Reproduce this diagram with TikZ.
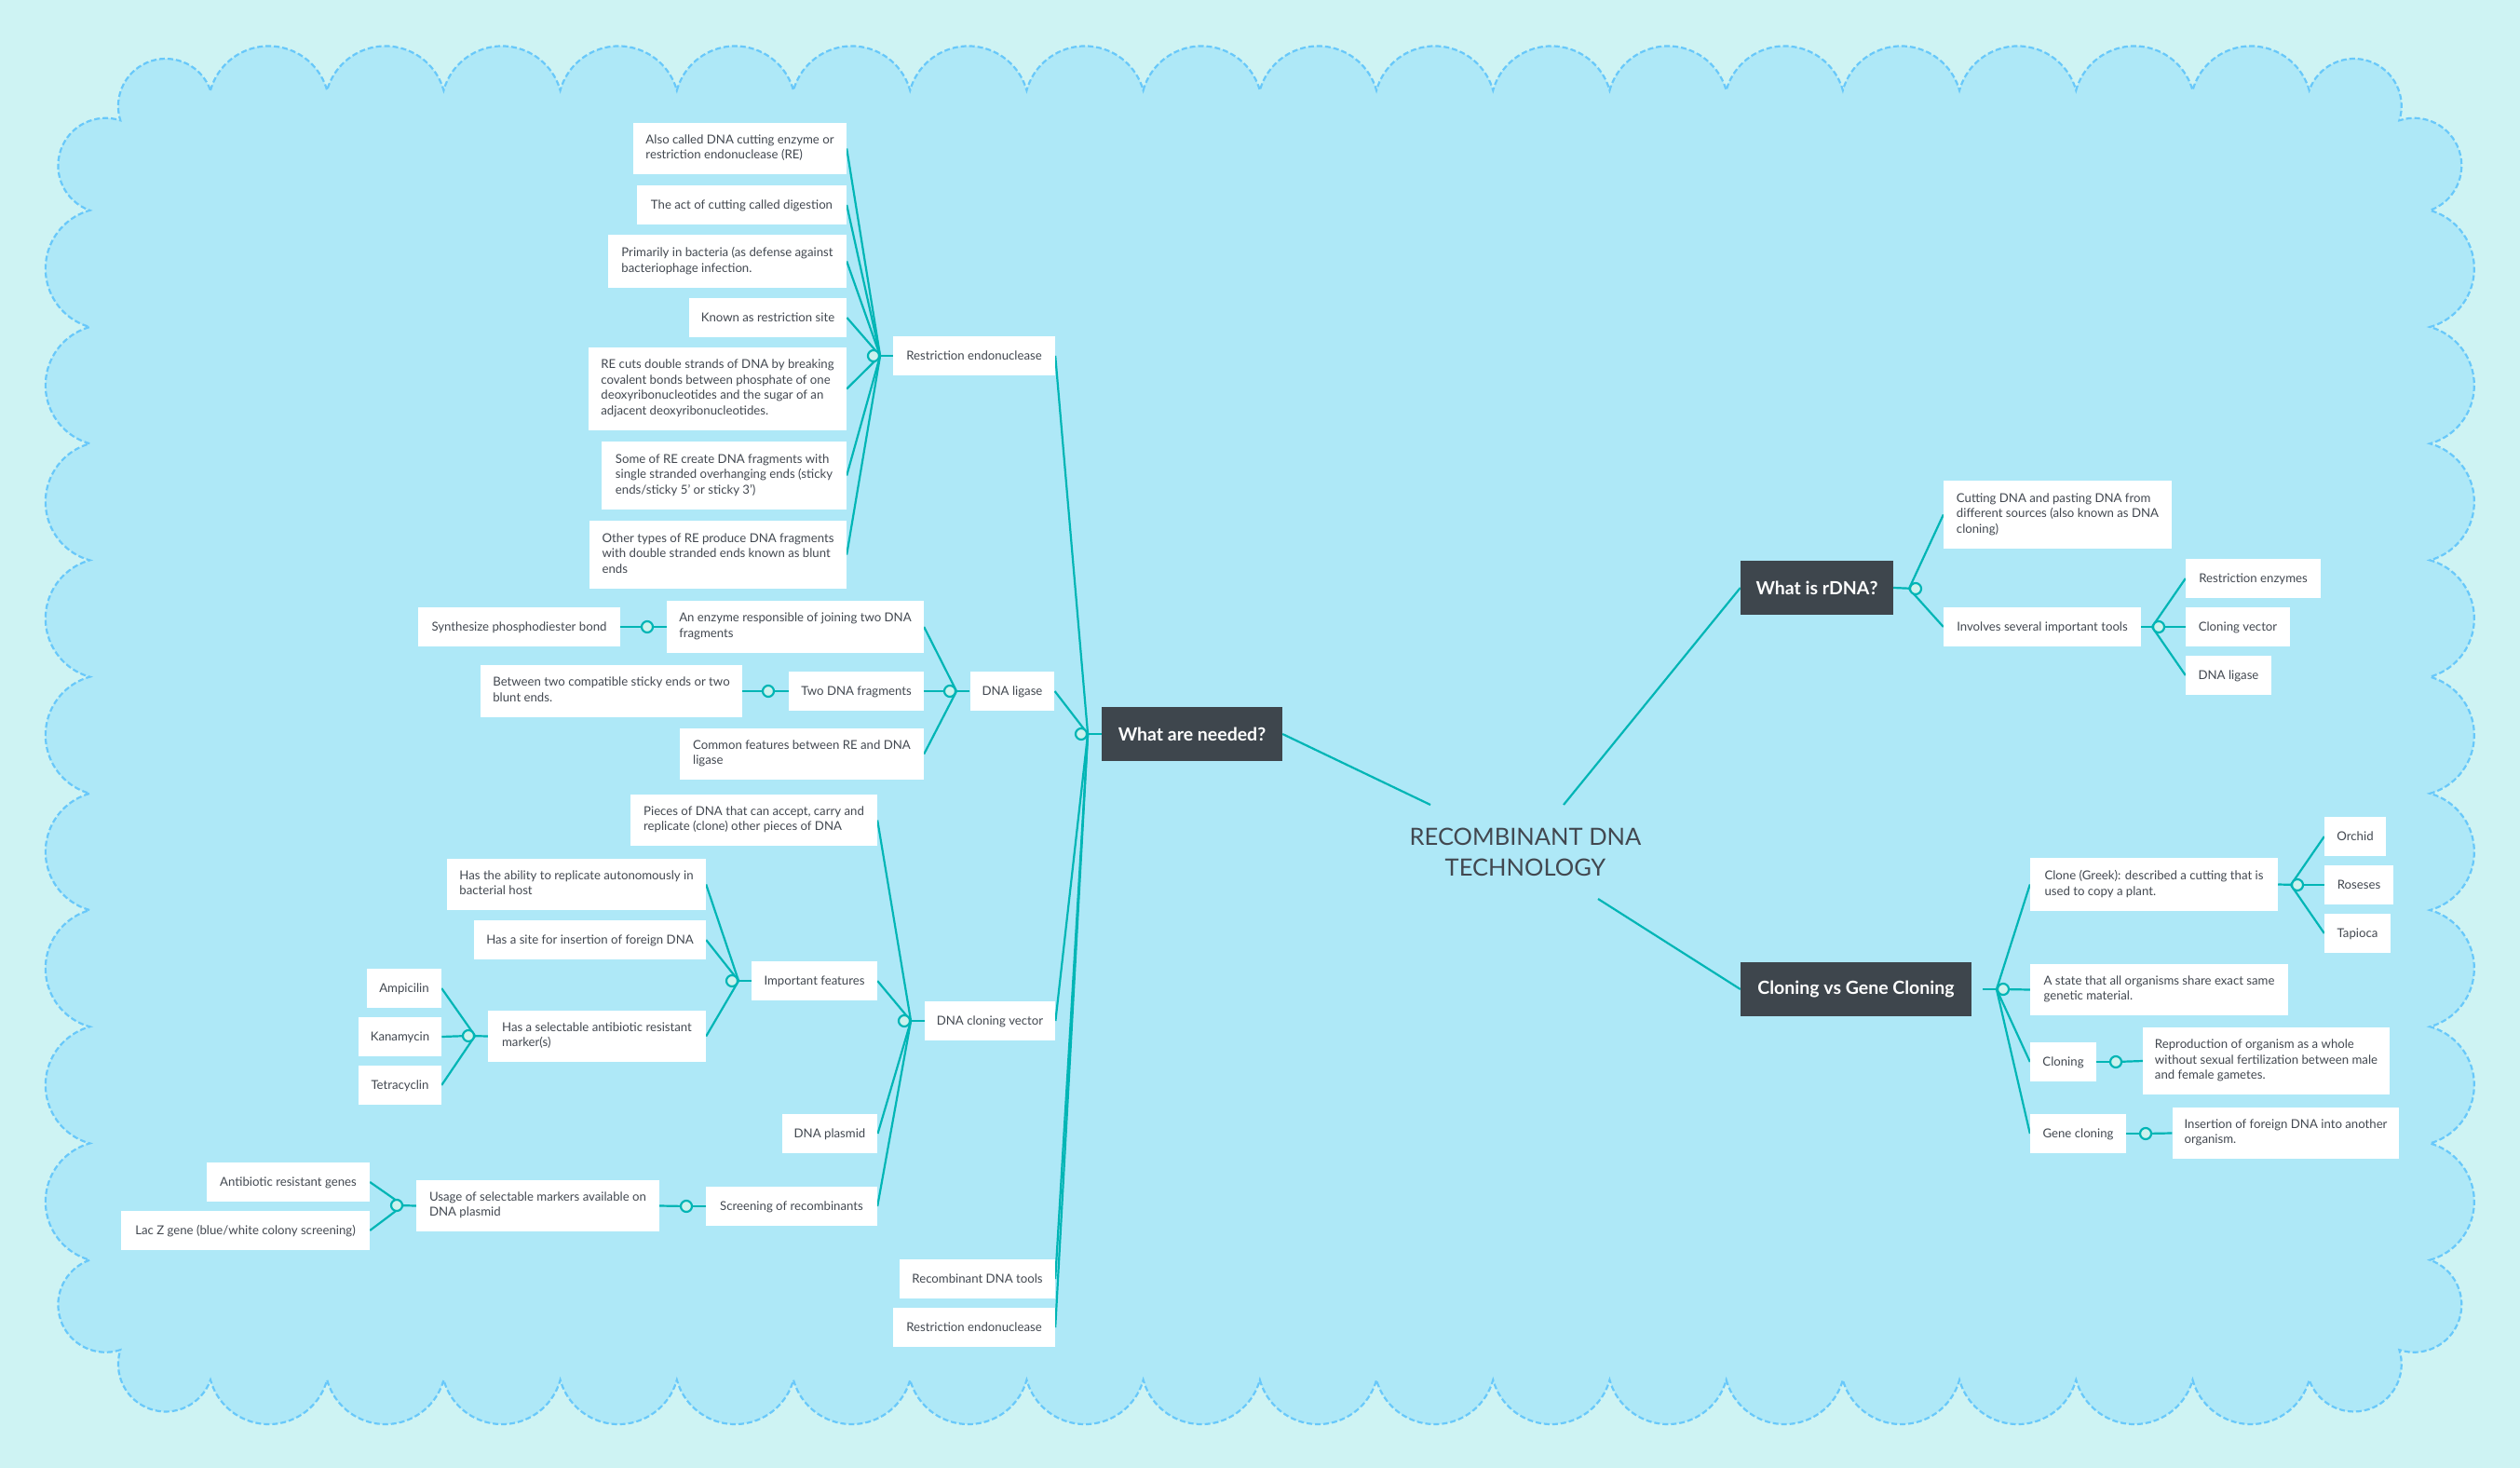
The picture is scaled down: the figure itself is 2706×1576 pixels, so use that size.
\documentclass[tikz,border=0pt]{standalone}
\usepackage{fontspec}
\setmainfont{Lato}
\usetikzlibrary{backgrounds}
\definecolor{paper}{RGB}{206,243,243}
\definecolor{cloudfill}{RGB}{174,232,247}
\definecolor{cloudline}{RGB}{104,200,250}
\definecolor{linkteal}{RGB}{0,181,181}
\definecolor{hubfill}{RGB}{204,242,238}
\definecolor{darkbox}{RGB}{62,70,77}
\definecolor{inktext}{RGB}{66,72,80}
\begin{document}
\begin{tikzpicture}[x=1pt,y=-1pt,
    note node/.style={rectangle,fill=white,text=inktext,inner xsep=13pt,inner ysep=13pt,align=left,minimum width=#1pt+26pt,
        font=\fontsize{13.2}{16.5}\selectfont,execute at begin node={\rule{0pt}{13pt}},execute at end node={\rule[-3.5pt]{0pt}{3.5pt}}},
    topic node/.style={rectangle,fill=darkbox,text=white,minimum width=#1pt,minimum height=58pt,inner sep=0pt,
        font=\fontsize{19.5}{22}\selectfont\bfseries},
    root node/.style={text=inktext,align=center,inner sep=0pt,font=\fontsize{25.5}{33}\selectfont},
    hub node/.style={circle,draw=linkteal,fill=hubfill,line width=2.2pt,minimum size=12pt,inner sep=0pt},
    link/.style={linkteal,line width=2.2pt}]

                \useasboundingbox (0,0) rectangle (2706,1576);

                \begin{pgfonlayer}{background}
                \fill[paper] (0,0) rectangle (2706,1576);
                \path[fill=cloudfill,draw=cloudline,line width=2.2pt,dash pattern=on 6pt off 3pt] (226,97)
                    \foreach \i in {1,...,18} { arc[start angle=164.4,end angle=15.6,radius=65pt] }
                    arc[start angle=160.5,end angle=-17.4,radius=51pt]
                    arc[start angle=108.1,end angle=-70.5,radius=51pt]
                    \foreach \i in {1,...,9} { arc[start angle=74.4,end angle=-74.4,radius=65pt] }
                    arc[start angle=70.5,end angle=-108.1,radius=51pt]
                    arc[start angle=17.4,end angle=-160.5,radius=51pt]
                    \foreach \i in {1,...,18} { arc[start angle=-15.6,end angle=-164.4,radius=65pt] }
                    arc[start angle=-19.5,end angle=-197.4,radius=51pt]
                    arc[start angle=-71.9,end angle=-250.5,radius=51pt]
                    \foreach \i in {1,...,9} { arc[start angle=-105.6,end angle=-254.4,radius=65pt] }
                    arc[start angle=250.5,end angle=71.9,radius=51pt]
                    arc[start angle=197.4,end angle=19.5,radius=51pt]
                    -- cycle;
                \end{pgfonlayer}

                \node[root node] at (1638,915) (root) {RECOMBINANT DNA\\TECHNOLOGY};
                \coordinate (rootnw) at (1536,864);
                \coordinate (rootne) at (1679,864);
                \coordinate (rootse) at (1716,965);

                \node[topic node=194] at (1280,788) (needed) {What are needed?};
                \node[topic node=164] at (1951,631) (rdna) {What is rDNA?};
                \node[topic node=248] at (1993,1062) (versus) {Cloning vs Gene Cloning};
                \coordinate (versusstub) at (2129,1062);

                \node[hub node] at (1161,788) (hubneeded) {};
                \node[hub node] at (2057,632) (hubrdna) {};
                \node[hub node] at (2151,1062) (hubversus) {};

                \node[note node=203] at (794.5,159.5) (also) {Also called DNA cutting enzyme or\\restriction endonuclease (RE)};
                \node[note node=199] at (796.5,220) (act) {The act of cutting called digestion};
                \node[note node=230] at (781,280.5) (primarily) {Primarily in bacteria (as defense against\\bacteriophage infection.};
                \node[note node=143] at (824.5,341) (known) {Known as restriction site};
                \node[note node=251] at (770.5,417.5) (recuts) {RE cuts double strands of DNA by breaking\\covalent bonds between phosphate of one\\deoxyribonucleotides and the sugar of an\\adjacent deoxyribonucleotides.};
                \node[note node=237] at (777.5,510.5) (some) {Some of RE create DNA fragments with\\single stranded overhanging ends (sticky\\ends/sticky 5' or sticky 3')};
                \node[note node=250] at (771,595.5) (other) {Other types of RE produce DNA fragments\\with double stranded ends known as blunt\\ends};
                \node[note node=148] at (1046,382) (restriction) {Restriction endonuclease};
                \node[hub node] at (938,382) (hubrestriction) {};

                \node[note node=250] at (854,673) (enzyme) {An enzyme responsible of joining two DNA\\fragments};
                \node[note node=191] at (557.5,673) (synthesize) {Synthesize phosphodiester bond};
                \node[note node=119] at (919.5,742) (two) {Two DNA fragments};
                \node[note node=255] at (656.5,742) (between) {Between two compatible sticky ends or two\\blunt ends.};
                \node[note node=236] at (861,809.5) (common) {Common features between RE and DNA\\ligase};
                \node[note node=64] at (1087,742) (ligase) {DNA ligase};
                \node[hub node] at (1020,742) (hubligase) {};
                \node[hub node] at (825,742) (hubtwo) {};
                \node[hub node] at (695,673) (hubenzyme) {};

                \node[note node=239] at (809.5,880.5) (pieces) {Pieces of DNA that can accept, carry and\\replicate (clone) other pieces of DNA};
                \node[note node=252] at (619,949.5) (ability) {Has the ability to replicate autonomously in\\bacterial host};
                \node[note node=223] at (633.5,1009) (site) {Has a site for insertion of foreign DNA};
                \node[note node=208] at (641,1112.5) (selectable) {Has a selectable antibiotic resistant\\marker(s)};
                \node[note node=54] at (434,1061) (ampicilin) {Ampicilin};
                \node[note node=63] at (429.5,1113) (kanamycin) {Kanamycin};
                \node[note node=63] at (429.5,1165) (tetracyclin) {Tetracyclin};
                \node[note node=109] at (874.5,1053) (features) {Important features};
                \node[note node=114] at (1063,1096) (vector) {DNA cloning vector};
                \node[note node=76] at (891,1217) (plasmid) {DNA plasmid};
                \node[note node=158] at (850,1295) (screening) {Screening of recombinants};
                \node[note node=235] at (577.5,1294.5) (usage) {Usage of selectable markers available on\\DNA plasmid};
                \node[note node=149] at (309.5,1269) (resistant) {Antibiotic resistant genes};
                \node[note node=241] at (263.5,1321) (lacz) {Lac Z gene (blue/white colony screening)};
                \node[note node=141] at (1049.5,1373) (tools) {Recombinant DNA tools};
                \node[note node=148] at (1046,1425) (restrictionb) {Restriction endonuclease};
                \node[hub node] at (503,1112) (hubselectable) {};
                \node[hub node] at (786,1053) (hubfeatures) {};
                \node[hub node] at (971,1096) (hubvector) {};
                \node[hub node] at (737,1295) (hubscreening) {};
                \node[hub node] at (426,1294) (hubusage) {};

                \node[note node=219] at (2209.5,552.5) (cutting) {Cutting DNA and pasting DNA from\\different sources (also known as DNA\\cloning)};
                \node[note node=186] at (2193,673) (involves) {Involves several important tools};
                \node[note node=119] at (2419.5,621) (enzymes) {Restriction enzymes};
                \node[note node=86] at (2403,673) (cloningvector) {Cloning vector};
                \node[note node=66] at (2393,725) (dnaligase) {DNA ligase};
                \node[hub node] at (2318,673) (hubinvolves) {};

                \node[note node=240] at (2313,949.5) (clone) {Clone (Greek): described a cutting that is\\used to copy a plant.};
                \node[note node=40] at (2529,898) (orchid) {Orchid};
                \node[note node=48] at (2533,950) (roseses) {Roseses};
                \node[note node=45] at (2531.5,1002) (tapioca) {Tapioca};
                \node[note node=251] at (2318.5,1062.5) (state) {A state that all organisms share exact same\\genetic material.};
                \node[note node=45] at (2215.5,1140) (cloning) {Cloning};
                \node[note node=239] at (2433.5,1139) (reproduction) {Reproduction of organism as a whole\\without sexual fertilization between male\\and female gametes.};
                \node[note node=77] at (2231.5,1217) (gene) {Gene cloning};
                \node[note node=217] at (2454.5,1216.5) (insertion) {Insertion of foreign DNA into another\\organism.};
                \node[hub node] at (2467,950) (hubclone) {};
                \node[hub node] at (2272,1140) (hubcloning) {};
                \node[hub node] at (2304,1217) (hubgene) {};

                \begin{pgfonlayer}{background}
                \path[link] (rootnw) edge[] (needed.east);
                \path[link] (rootne) edge[] (rdna.west);
                \path[link] (rootse) edge[] (versus.west);

                \path[link] (needed.west) edge[] (hubneeded);
                \path[link] (restriction.east) edge[] (hubneeded.east);
                \path[link] (ligase.east) edge[] (hubneeded.east);
                \path[link] (vector.east) edge[] (hubneeded.east);
                \path[link] (tools.east) edge[] (hubneeded.east);
                \path[link] (restrictionb.east) edge[] (hubneeded.east);

                \path[link] (restriction.west) edge[] (hubrestriction);
                \path[link] (also.east) edge[] (hubrestriction.east);
                \path[link] (act.east) edge[] (hubrestriction.east);
                \path[link] (primarily.east) edge[] (hubrestriction.east);
                \path[link] (known.east) edge[] (hubrestriction.east);
                \path[link] (recuts.east) edge[] (hubrestriction.east);
                \path[link] (some.east) edge[] (hubrestriction.east);
                \path[link] (other.east) edge[] (hubrestriction.east);

                \path[link] (ligase.west) edge[] (hubligase);
                \path[link] (enzyme.east) edge[] (hubligase.east);
                \path[link] (two.east) edge[] (hubligase.east);
                \path[link] (common.east) edge[] (hubligase.east);
                \path[link] (two.west) edge[] (hubtwo);
                \path[link] (hubtwo) edge[] (between.east);
                \path[link] (enzyme.west) edge[] (hubenzyme);
                \path[link] (hubenzyme) edge[] (synthesize.east);

                \path[link] (vector.west) edge[] (hubvector);
                \path[link] (pieces.east) edge[] (hubvector.east);
                \path[link] (features.east) edge[] (hubvector.east);
                \path[link] (plasmid.east) edge[] (hubvector.east);
                \path[link] (screening.east) edge[] (hubvector.east);

                \path[link] (features.west) edge[] (hubfeatures);
                \path[link] (ability.east) edge[] (hubfeatures.east);
                \path[link] (site.east) edge[] (hubfeatures.east);
                \path[link] (selectable.east) edge[] (hubfeatures.east);
                \path[link] (selectable.west) edge[] (hubselectable);
                \path[link] (ampicilin.east) edge[] (hubselectable.east);
                \path[link] (kanamycin.east) edge[] (hubselectable);
                \path[link] (tetracyclin.east) edge[] (hubselectable.east);

                \path[link] (screening.west) edge[] (hubscreening);
                \path[link] (hubscreening) edge[] (usage.east);
                \path[link] (usage.west) edge[] (hubusage);
                \path[link] (resistant.east) edge[] (hubusage.east);
                \path[link] (lacz.east) edge[] (hubusage.east);

                \path[link] (rdna.east) edge[] (hubrdna);
                \path[link] (hubrdna.west) edge[] (cutting.west);
                \path[link] (hubrdna.west) edge[] (involves.west);
                \path[link] (involves.east) edge[] (hubinvolves);
                \path[link] (hubinvolves.west) edge[] (enzymes.west);
                \path[link] (hubinvolves) edge[] (cloningvector.west);
                \path[link] (hubinvolves.west) edge[] (dnaligase.west);

                \path[link] (versusstub) edge[] (hubversus);
                \path[link] (hubversus.west) edge[] (clone.west);
                \path[link] (hubversus) edge[] (state.west);
                \path[link] (hubversus.west) edge[] (cloning.west);
                \path[link] (hubversus.west) edge[] (gene.west);
                \path[link] (clone.east) edge[] (hubclone);
                \path[link] (hubclone.west) edge[] (orchid.west);
                \path[link] (hubclone) edge[] (roseses.west);
                \path[link] (hubclone.west) edge[] (tapioca.west);
                \path[link] (cloning.east) edge[] (hubcloning);
                \path[link] (hubcloning) edge[] (reproduction.west);
                \path[link] (gene.east) edge[] (hubgene);
                \path[link] (hubgene) edge[] (insertion.west);
                \end{pgfonlayer}
            \end{tikzpicture}
\end{document}
